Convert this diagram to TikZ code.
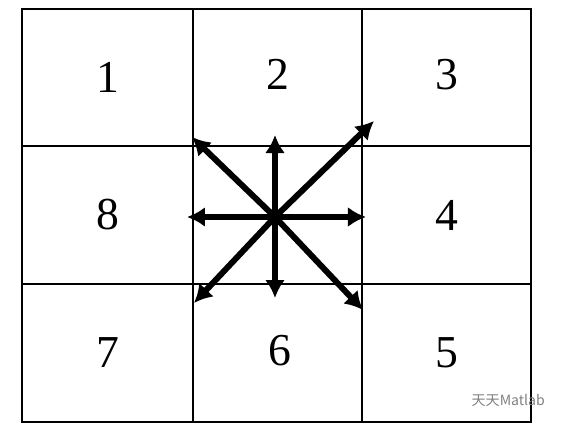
\documentclass[tikz,border=0pt]{standalone}
\usepackage{fontspec}
\setmainfont{Liberation Serif}
\newfontfamily\cjkfont{Noto Sans CJK SC}
\usetikzlibrary{arrows.meta}
\tikzset{
  cellnum/.style={font=\fontsize{26}{29}\selectfont},
  movearrow/.style={-{Latex[length=3.6mm,width=4mm]}, line width=3.4pt, black},
}
\begin{document}
\begin{tikzpicture}
    \useasboundingbox (-0.44, -0.12) rectangle (10.92, 8.44);
    % grid
    \draw[line width=1pt] (0, 0) rectangle (10.18, 8.26);
    \draw[line width=1pt] (3.42, 0) -- (3.42, 8.26);
    \draw[line width=1pt] (6.80, 0) -- (6.80, 8.26);
    \draw[line width=1pt] (0, 2.76) -- (10.18, 2.76);
    \draw[line width=1pt] (0, 5.52) -- (10.18, 5.52);
    % cell numbers
    \node[cellnum] (n1) at (1.71, 6.89) {1};
    \node[cellnum] (n2) at (5.11, 6.95) {2};
    \node[cellnum] (n3) at (8.49, 6.95) {3};
    \node[cellnum] (n8) at (1.71, 4.14) {8};
    \node[cellnum] (n4) at (8.49, 4.14) {4};
    \node[cellnum] (n7) at (1.71, 1.38) {7};
    \node[cellnum] (n6) at (5.15, 1.42) {6};
    \node[cellnum] (n5) at (8.49, 1.38) {5};
    % neighbour arrows
    \coordinate (ctr) at (5.06, 4.10);
    \coordinate (pN) at (5.06, 5.74);
    \coordinate (pS) at (5.06, 2.48);
    \coordinate (pW) at (3.30, 4.10);
    \coordinate (pE) at (6.88, 4.10);
    \coordinate (pNW) at (3.40, 5.70);
    \coordinate (pNE) at (7.04, 6.02);
    \coordinate (pSW) at (3.44, 2.38);
    \coordinate (pSE) at (6.82, 2.24);
    \foreach \p in {pN, pS, pW, pE, pNW, pNE, pSW, pSE}
      \draw[movearrow] (ctr) -- (\p);
    \fill (ctr) circle (0.13);
    \node[anchor=east, text=black!50, font=\cjkfont\fontsize{8}{9}\selectfont] (wm) at (10.58, 0.44) {天天Matlab};
  \end{tikzpicture}
\end{document}
